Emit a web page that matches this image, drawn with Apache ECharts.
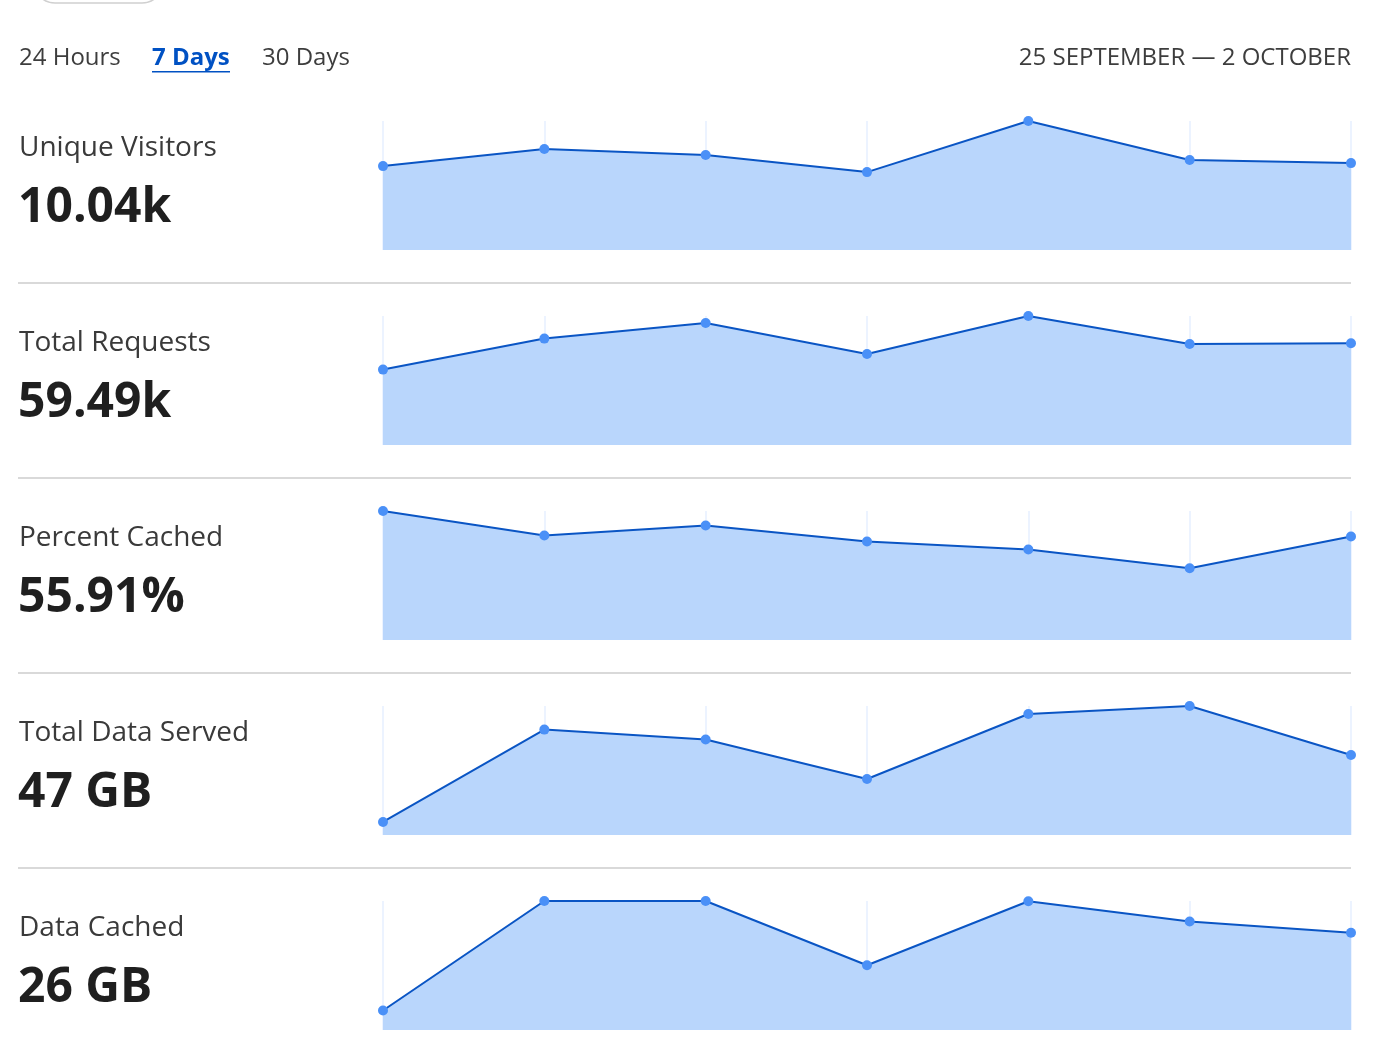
<!DOCTYPE html>
<html>
<head>
<meta charset="utf-8">
<script src="https://cdn.jsdelivr.net/npm/echarts@6/dist/echarts.min.js"></script>
<style>
html,body{margin:0;padding:0;background:#fff;}
#chart{width:1380px;height:1050px;}
</style>
</head>
<body>
<div id="chart"></div>
<script>
// ---- data ----
const days = ['26 Sep', '27 Sep', '28 Sep', '29 Sep', '30 Sep', '1 Oct', '2 Oct'];
const metricNames = ['Unique Visitors', 'Total Requests', 'Percent Cached', 'Total Data Served', 'Data Cached'];
const metricTotals = ['10.04k', '59.49k', '55.91%', '47 GB', '26 GB'];
const uniqueVisitors = [1269, 1527, 1436, 1178, 1951, 1360, 1314];
const totalRequests = [6175, 8714, 9992, 7453, 10565, 8272, 8329];
const percentCached = [70.9, 57.4, 62.9, 54.1, 49.7, 39.4, 56.9];
const totalDataServed = [1.02, 8.26, 7.48, 4.39, 9.48, 10.11, 6.27];
const dataCached = [0.75, 4.96, 4.96, 2.49, 4.95, 4.17, 3.74];
const tabs = ['24 Hours', '7 Days', '30 Days'];
const dateRange = '25 SEPTEMBER \u2014 2 OCTOBER';

const seriesData = [uniqueVisitors, totalRequests, percentCached, totalDataServed, dataCached];

const FONT = '"Open Sans", "Noto Sans", sans-serif';
const PANEL_TOP = 121, PANEL_STEP = 195, PANEL_H = 129;

const grids = [], xAxes = [], yAxes = [], series = [], graphics = [];
seriesData.forEach((d, i) => {
  const top = PANEL_TOP + i * PANEL_STEP;
  grids.push({left: 383, right: 29, top: top, height: PANEL_H});
  xAxes.push({
    type: 'category', gridIndex: i, data: days, boundaryGap: false,
    axisLine: {show: false}, axisTick: {show: false}, axisLabel: {show: false},
    splitLine: {show: true, lineStyle: {color: '#e6efff', width: 1.5}}
  });
  yAxes.push({
    type: 'value', gridIndex: i, min: 0, max: 'dataMax',
    axisLine: {show: false}, axisTick: {show: false}, axisLabel: {show: false},
    splitLine: {show: false}
  });
  series.push({
    type: 'line', xAxisIndex: i, yAxisIndex: i, data: d,
    symbol: 'circle', symbolSize: 10, showSymbol: true,
    itemStyle: {color: '#4a90f7'},
    lineStyle: {color: '#0a55c4', width: 2},
    areaStyle: {color: '#b9d6fc', opacity: 1},
    silent: true, animation: false
  });
  graphics.push({
    type: 'text', left: 19, top: top + 13,
    style: {text: metricNames[i], font: '400 28px ' + FONT, fill: '#3a3a3a'}
  });
  graphics.push({
    type: 'text', left: 18, top: top + 63,
    style: {text: metricTotals[i], font: '700 48px ' + FONT, fill: '#1f1f1f'}
  });
  if (i > 0) {
    graphics.push({
      type: 'rect', shape: {x: 18, y: top - 34, width: 1333, height: 2},
      style: {fill: '#d9d9d9'}
    });
  }
});

// top partial button
graphics.push({
  type: 'rect', shape: {x: 34, y: -40, width: 129, height: 43, r: 21},
  style: {fill: '#fff', stroke: '#d0d0d0', lineWidth: 1.5}
});
// tabs
const tabX = [19, 152, 262];
tabs.forEach((t, k) => {
  graphics.push({
    type: 'text', left: tabX[k], top: 46,
    style: {text: t, font: (k === 1 ? '700 ' : '400 ') + '24px ' + FONT, fill: k === 1 ? '#0051c3' : '#3d3d3d'}
  });
});
graphics.push({type: 'rect', shape: {x: 152, y: 71, width: 78, height: 1.5}, style: {fill: '#0051c3'}});
graphics.push({
  type: 'text', right: 29, top: 46,
  style: {text: dateRange, font: '400 24px ' + FONT, fill: '#3d3d3d'}
});

const chart = echarts.init(document.getElementById('chart'), null, {renderer: 'canvas'});
chart.setOption({
  animation: false,
  backgroundColor: '#ffffff',
  grid: grids, xAxis: xAxes, yAxis: yAxes, series: series,
  graphic: graphics
});
</script>
</body>
</html>
